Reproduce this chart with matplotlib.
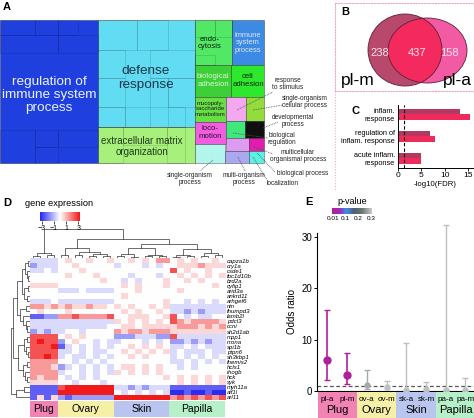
import numpy as np
import matplotlib.pyplot as plt
from matplotlib.patches import Rectangle, Ellipse
from matplotlib.colors import LinearSegmentedColormap, Normalize
from matplotlib.cm import ScalarMappable

plt.rcParams['font.family'] = ['Liberation Sans', 'DejaVu Sans']

# ---------------- data ----------------
# A: GO treemap terms
tm_labels = ["regulation of\nimmune system\nprocess", "defense\nresponse",
             "extracellular matrix\norganization", "endo-\ncytosis",
             "immune\nsystem\nprocess", "biological\nadhesion", "cell\nadhesion",
             "mucopoly-\nsaccharide\nmetabolism", "", "", "loco-\nmotion",
             "", "", "", "", "", "", ""]
tm_colors = ["#1f3fde", "#62dcf2", "#a8f07c", "#52e866", "#3c8ae4", "#3ccf38",
             "#2ee82e", "#68dd46", "#f4a8f0", "#92dc3c", "#f25ee0", "#40e87c",
             "#101010", "#de9cf0", "#e21cb0", "#b2f5ec", "#aaa8f0", "#5ef0e2"]
tm_outside = ["response\nto stimulus", "single-organism\ncellular process",
              "developmental\nprocess", "biological\nregulation",
              "multicellular\norganismal process", "biological process",
              "localization", "multi-organism\nprocess", "single-organism\nprocess"]

# B: Venn counts
venn_sets = ["pl-m", "pl-a"]
venn_counts = [238, 437, 158]

# C: enriched terms
c_terms = ["inflam.\nresponse", "regulation of\ninflam. response", "acute inflam.\nresponse"]
c_plm = [13.3, 6.8, 5.0]
c_pla = [15.3, 7.8, 4.8]

# D: heatmap (colour levels 0..8, 4 = 0)
genes = ["capza1b", "cry1a", "csde1", "tbc1d10b", "brd2a", "cyfip1", "arid3a",
         "ankrd11", "arhgef6", "nin", "thumpd3", "lamb2l", "pdcl3", "ccni",
         "sh2d1ab", "mpp1", "mona", "spi1b", "ptpn6", "sh3kbp1", "themis2",
         "hcls1", "rhogb", "hck", "syk", "myh11a", "aif1l", "arl11"]
tissues = ["Plug", "Ovary", "Skin", "Papilla"]
tissue_n = [4, 8, 8, 8]
level_values = [-3.2, -2.4, -1.5, -0.55, 0.0, 0.55, 1.4, 2.4, 3.2]
expr_rows = [
    "3333 45445445 44545466 45454454",
    "2333 44544444 34443434 45556555",
    "3343 44454444 44444444 74544544",
    "4444 45444544 44344434 45454545",
    "4444 44444454 43434445 44545444",
    "5555 44444444 45454445 44444454",
    "4444 33343333 44454444 45444444",
    "4444 44444444 45444444 44444444",
    "3334 33333333 44444445 44343434",
    "6656 56556554 54544545 33333333",
    "4544 45444444 45454454 33232333",
    "1122 66766667 44555445 74343344",
    "3333 33333333 54545454 76566665",
    "3333 33333334 45545555 56665656",
    "2323 34434444 65665666 55555555",
    "7777 45454444 22233322 73333333",
    "7877 24544343 34443434 22323233",
    "7778 13434343 44545454 33434333",
    "7777 33434334 45454545 34333433",
    "7787 34334343 44545444 34343434",
    "6666 44343434 44444444 33434343",
    "6665 23434343 45545454 43434444",
    "6666 34434343 54545454 44444444",
    "6566 43434344 44444445 45454545",
    "5555 44344434 44444444 45454545",
    "1111 78888888 33232333 11111111",
    "1111 88888888 43434343 00100100",
    "1515 21222222 88888888 67676767",
]
col_tree = [10.0,
            [1.6, [0.7, 0, 1], [1.0, 2, 3]],
            [6.5,
             [3.6, [1.2, 4, 5], [2.2, [0.9, 6, 7], [1.4, [0.6, 8, 9], [0.8, 10, 11]]]],
             [4.8,
              [3.4, [1.5, [0.7, 12, 13], [0.5, 14, 15]], [1.0, [0.6, 16, 17], [0.8, 18, 19]]],
              [3.0, [1.2, [0.5, 20, 21], [0.7, 22, 23]], [1.6, [0.6, 24, 25], [0.9, 26, 27]]]]]]
row_tree = [10.0,
            [8.5,
             [6.5,
              [4.0, [2.5, [1.2, 0, 1], [1.8, 2, [0.9, 3, 4]]], [3.0, [1.0, 5, 6], [1.5, 7, 8]]],
              [5.0, [2.0, 9, 10], [3.5, 11, [2.2, 12, [1.4, 13, 14]]]]],
             [6.0,
              [3.0, [1.6, 15, 16], [2.2, 17, [1.1, 18, 19]]],
              [3.5, [1.5, 20, 21], [2.5, 22, [1.3, 23, 24]]]]],
            [7.0, [3.0, 25, 26], 27]]

# E: odds ratios
e_labels = ["pl-a", "pl-m", "ov-a", "ov-m", "sk-a", "sk-m", "pa-a", "pa-m"]
odds = [6.1, 3.2, 1.25, 0.8, 0.2, 0.3, 0.1, 0.2]
odds_lo = [2.1, 1.4, 0.4, 0.3, 0.0, 0.05, 0.0, 0.0]
odds_hi = [15.8, 7.4, 4.0, 1.9, 9.3, 1.8, 32.2, 2.5]
pvals = [0.01, 0.01, 0.28, 0.3, 0.3, 0.3, 0.3, 0.3]

# ---------------- layout ----------------
W, H = 474, 418
fig = plt.figure(figsize=(W / 100, H / 100), dpi=100)


def px_axes(x0, y0, x1, y1):
    return fig.add_axes([x0 / W, 1 - y1 / H, (x1 - x0) / W, (y1 - y0) / H])


tissue_colors = ["#f383b4", "#f6f0a6", "#b9c5ee", "#b6f0c8"]
cmap_expr = LinearSegmentedColormap.from_list("expr", ["#2626f2", "#ffffff", "#f21414"])
cmap_p = LinearSegmentedColormap.from_list(
    "pv", [(0, "#b41c96"), (0.2, "#9a2cb8"), (0.36, "#3c8ee8"), (0.55, "#4c6272"),
           (0.75, "#6c7676"), (1, "#c4cccc")])

# ---- A: treemap ----
ax_a = px_axes(0, 20, 335, 190)
ax_a.set_xlim(0, 335)
ax_a.set_ylim(170, 0)
ax_a.axis("off")
tm_boxes = [(0, 0, 98, 143), (98, 0, 195, 107), (98, 107, 195, 143),
            (195, 0, 232, 45), (232, 0, 264, 45), (195, 45, 231, 77),
            (231, 45, 264, 77), (195, 77, 226, 102), (226, 77, 246, 101),
            (246, 77, 264, 101), (195, 102, 226, 124), (226, 101, 245, 118),
            (245, 101, 264, 118), (226, 118, 249, 131), (249, 118, 264, 131),
            (195, 124, 225, 143), (225, 131, 249, 143), (249, 131, 264, 143)]
tm_sub = [(0, 0, 35, 15), (35, 0, 58, 15), (58, 0, 78, 15), (0, 15, 58, 33),
          (58, 15, 98, 33), (0, 110, 35, 143), (35, 110, 58, 127), (58, 110, 98, 127),
          (35, 127, 58, 143), (98, 0, 137, 30), (137, 0, 168, 30), (98, 30, 125, 58),
          (150, 30, 195, 58), (98, 58, 125, 87), (125, 87, 150, 107), (150, 58, 168, 87),
          (168, 58, 195, 87), (168, 87, 185, 107), (98, 87, 125, 107),
          (98, 107, 123, 143), (123, 107, 167, 125), (167, 107, 185, 143),
          (195, 0, 215, 17), (215, 0, 232, 17), (195, 35, 215, 45)]
for (x0, y0, x1, y1), fc in zip(tm_boxes, tm_colors):
    ax_a.add_patch(Rectangle((x0, y0), x1 - x0, y1 - y0, facecolor=fc,
                             edgecolor=(0, 0, 0, 0.45), lw=0.5))
for (x0, y0, x1, y1) in tm_sub:
    ax_a.add_patch(Rectangle((x0, y0), x1 - x0, y1 - y0, facecolor="none",
                             edgecolor=(0, 0, 0, 0.16), lw=0.5))
tm_text = [((49, 75), 9.7, "#eef3ff"), ((146, 58), 9.7, "#173448"),
           ((142, 126.5), 7, "#1e3a1e"), ((210, 23), 5.6, "#102010"),
           ((248, 23), 5.4, "#dde9ff"), ((213, 60.5), 5.6, "#dcf8d4"),
           ((248, 60.5), 5.6, "#0a200a"), ((210, 89), 4.3, "#102010"),
           None, None, ((210, 112.5), 5.6, "#301030")]
for lab, spec in zip(tm_labels, tm_text):
    if spec and lab:
        (x, y), fs, tc = spec
        ax_a.text(x, y, lab, ha="center", va="center", fontsize=fs, color=tc,
                  linespacing=1.15)
out_pos = [(288, 64), (305, 82), (293, 101), (282, 119), (298, 136), (303, 153),
           (283, 163), (244, 159), (190, 159)]
out_lead = [((237, 90), (273, 72)), ((253, 90), (283, 85)), ((263, 108), (278, 102)),
            ((233, 113), (268, 118)), ((254, 127), (273, 134)), ((257, 133), (275, 152)),
            ((253, 137), (267, 160)), ((238, 137), (245, 151)), ((213, 140), (200, 151))]
for lab, (x, y), (p0, p1) in zip(tm_outside, out_pos, out_lead):
    ax_a.text(x, y, lab, ha="center", va="center", fontsize=4.7, color="#222222",
              linespacing=1.15)
    ax_a.plot([p0[0], p1[0]], [p0[1], p1[1]], ls=(0, (1, 1)), color="#555555", lw=0.6)

# ---- B: Venn ----
ax_b = px_axes(335, 3, 476, 91)
ax_b.set_xlim(335, 476)
ax_b.set_ylim(91, 3)
ax_b.set_xticks([])
ax_b.set_yticks([])
for s in ax_b.spines.values():
    s.set_linestyle((0, (1, 1.5)))
    s.set_color("#f0a8c8")
    s.set_linewidth(0.8)
left_c = Ellipse((405, 50), 74, 72, facecolor="#b8486c", edgecolor="none")
right_c = Ellipse((427.5, 50.5), 79, 65, facecolor="#f25aa4", edgecolor="none")
ax_b.add_patch(right_c)
ax_b.add_patch(left_c)
inter = Ellipse((427.5, 50.5), 79, 65, facecolor="#f42a5e", edgecolor="none")
ax_b.add_patch(inter)
inter.set_clip_path(left_c)
ax_b.add_patch(Ellipse((405, 50), 74, 72, facecolor="none", edgecolor="#5a2236", lw=0.6))
ax_b.add_patch(Ellipse((427.5, 50.5), 79, 65, facecolor="none", edgecolor="#5a2236", lw=0.6))
for x, n in zip([380, 417, 449], venn_counts):
    ax_b.text(x, 53, str(n), ha="center", va="center", fontsize=8, color="#ffe4ec")
ax_b.text(358, 80, venn_sets[0], ha="center", va="center", fontsize=12.5)
ax_b.text(457, 80, venn_sets[1], ha="center", va="center", fontsize=12.5)

# ---- C: bars ----
ax_c = px_axes(398, 105, 473, 168)
yc = np.arange(len(c_terms))
ax_c.barh(yc - 0.125, c_plm, height=0.25, color="#b3395e")
ax_c.barh(yc + 0.125, c_pla, height=0.25, color="#ef2a5c")
ax_c.axvline(1.3, color="black", lw=0.8, dashes=(3, 2))
ax_c.set_xlim(0, 16)
ax_c.set_ylim(2.45, -0.41)
ax_c.set_yticks(yc, c_terms, fontsize=5.3, linespacing=1.15)
ax_c.set_xticks([0, 5, 10, 15])
ax_c.tick_params(axis="y", length=0, pad=2)
ax_c.tick_params(axis="x", labelsize=6, length=2, width=0.6, pad=1)
ax_c.set_xlabel("-log10(FDR)", fontsize=5.6, labelpad=1)
for s in ["top", "right"]:
    ax_c.spines[s].set_visible(False)
for s in ["left", "bottom"]:
    ax_c.spines[s].set_linewidth(0.7)

# ---- D: heatmap ----
levels = np.array([[int(c) for c in r.replace(" ", "")] for r in expr_rows])
expr = np.array(level_values)[levels]
ax_h = px_axes(30, 258, 225, 400)
ncol = expr.shape[1]
ax_h.imshow(expr, cmap=cmap_expr, vmin=-3.3, vmax=3.3, aspect="auto",
            interpolation="nearest", extent=(0, ncol, len(genes), 0))
ax_h.yaxis.tick_right()
ax_h.set_yticks(np.arange(len(genes)) + 0.5, genes, fontsize=4.3, style="italic")
ax_h.tick_params(axis="y", length=0, pad=1.5)
ax_h.set_xticks([])
for s in ax_h.spines.values():
    s.set_visible(False)


def draw_tree(ax, node, top):
    if isinstance(node, int):
        return node + 0.5, 0.0
    h, a, b = node
    xa, ha = draw_tree(ax, a, top)
    xb, hb = draw_tree(ax, b, top)
    xs, ys = [xa, xa, xb, xb], [ha, h, h, hb]
    if top:
        ax.plot(xs, ys, color="#333333", lw=0.5)
    else:
        ax.plot(ys, xs, color="#333333", lw=0.5)
    return (xa + xb) / 2, h


ax_cd = px_axes(30, 228, 225, 258)
draw_tree(ax_cd, col_tree, True)
ax_cd.set_xlim(0, ncol)
ax_cd.set_ylim(0, 10.3)
ax_cd.axis("off")
ax_rd = px_axes(10, 258, 30, 400)
draw_tree(ax_rd, row_tree, False)
ax_rd.set_xlim(10.3, 0)
ax_rd.set_ylim(len(genes), 0)
ax_rd.axis("off")

ax_g = px_axes(30, 401, 225, 417)
starts = np.cumsum([0] + tissue_n[:-1])
for t, st, n, col in zip(tissues, starts, tissue_n, tissue_colors):
    ax_g.barh(0.5, n, left=st, height=1, color=col)
    ax_g.text(st + n / 2, 0.5, t, ha="center", va="center", fontsize=7.5)
ax_g.set_xlim(0, ncol)
ax_g.set_ylim(1, 0)
ax_g.axis("off")

cax_d = px_axes(40, 212, 80, 221)
cb = fig.colorbar(ScalarMappable(Normalize(-3.3, 3.3), cmap_expr), cax=cax_d,
                  orientation="horizontal", ticks=[-3, -1, 1, 3])
cb.outline.set_visible(False)
cb.ax.tick_params(labelsize=5, length=2, width=0.5, pad=1)

# ---- E: odds ratios ----
ax_e = px_axes(317, 233, 474, 391)
xe = np.arange(len(e_labels))
for i in xe:
    c = cmap_p(pvals[i] / 0.31)
    big = pvals[i] < 0.05
    ax_e.errorbar(i, odds[i], yerr=[[odds[i] - odds_lo[i]], [odds_hi[i] - odds[i]]],
                  fmt="o", color=c, ms=5 if big else 3.5, elinewidth=1.2 if big else 1.0,
                  capsize=2, capthick=1.0, clip_on=False, zorder=3)
ax_e.axhline(1, color="#555555", lw=0.9, dashes=(3, 2))
ax_e.set_xlim(-0.53, 7.44)
ax_e.set_ylim(0, 30.7)
ax_e.set_yticks([0, 10, 20, 30])
ax_e.set_xticks([])
ax_e.tick_params(axis="y", labelsize=7, length=2.5, width=0.7, pad=1)
ax_e.set_ylabel("Odds ratio", fontsize=7, labelpad=3)
for s in ["top", "right"]:
    ax_e.spines[s].set_visible(False)
for s in ["left", "bottom"]:
    ax_e.spines[s].set_linewidth(0.8)

ax_x = px_axes(317, 392, 474, 418)
for k, (t, col) in enumerate(zip(tissues, tissue_colors)):
    x0 = max(2 * k - 0.5, -0.53)
    x1 = min(2 * k + 1.5, 7.44)
    ax_x.barh(0.5, x1 - x0, left=x0, height=1, color=col)
    ax_x.text(2 * k + 0.5, 0.7, t, ha="center", va="center", fontsize=8)
for i, lab in zip(xe, e_labels):
    ax_x.text(i, 0.27, lab, ha="center", va="center", fontsize=5.8)
ax_x.set_xlim(-0.53, 7.44)
ax_x.set_ylim(1, 0)
ax_x.axis("off")

cax_e = px_axes(332, 208, 372, 214)
cb2 = fig.colorbar(ScalarMappable(Normalize(0, 0.31), cmap_p), cax=cax_e,
                   orientation="horizontal", ticks=[0.01, 0.1, 0.2, 0.3])
cb2.outline.set_visible(False)
cb2.ax.set_xticklabels(["0.01", "0.1", "0.2", "0.3"])
cb2.ax.tick_params(labelsize=4.6, length=0, pad=1.5)

# ---- overlay: panel letters, text, separators ----
ov = fig.add_axes([0, 0, 1, 1], zorder=10)
ov.patch.set_alpha(0)
ov.set_xlim(0, W)
ov.set_ylim(H, 0)
ov.axis("off")
for lab, (x, y) in zip("ABCDE", [(3, 7), (341, 12), (352, 111), (3, 203), (305, 202)]):
    ov.text(x, y, lab, fontsize=8, fontweight="bold", ha="left", va="center")
ov.plot([335, 335], [91, 190], ls=(0, (1, 1.5)), color="#f0a8c8", lw=0.8)
ov.text(25, 203, "gene expression", fontsize=6.7, va="center")
ov.text(352, 202, "p-value", fontsize=6.5, ha="center", va="center")

fig.savefig("out.png", dpi=100)
